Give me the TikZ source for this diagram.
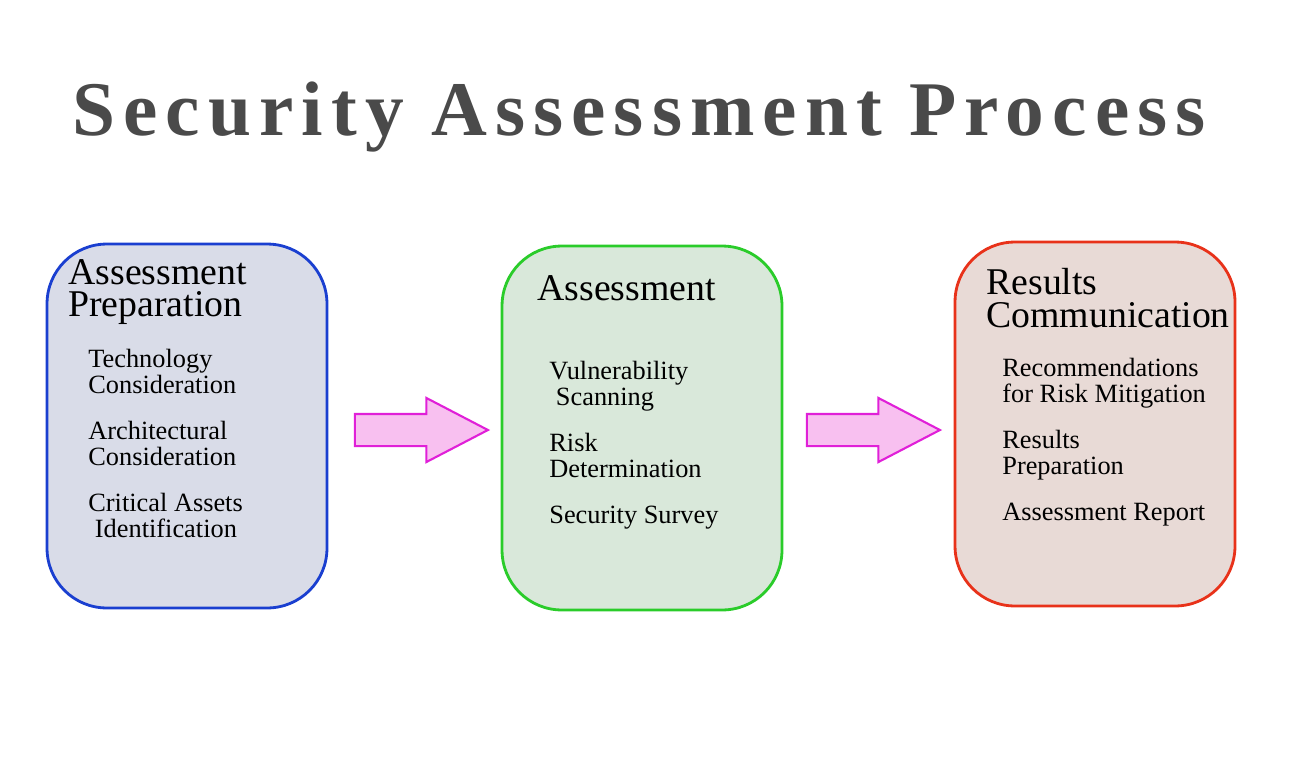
\documentclass[tikz,border=0pt]{standalone}
\usepackage{fontspec}
\setmainfont{Liberation Serif}
\newfontfamily\titlefont[LetterSpace=10.5]{Liberation Serif}
\usetikzlibrary{shapes.arrows}
\definecolor{titlegray}{HTML}{4A4A4A}
\definecolor{prepfill}{HTML}{D9DCE8}
\definecolor{prepline}{HTML}{1A3FD0}
\definecolor{assfill}{HTML}{D9E8DA}
\definecolor{assline}{HTML}{2ACC2A}
\definecolor{resfill}{HTML}{E8DAD6}
\definecolor{resline}{HTML}{E8321A}
\definecolor{arrline}{HTML}{E020D8}
\definecolor{arrfill}{HTML}{F8C0F0}
\tikzset{
  stagebox/.style={rounded corners=34pt, line width=1.6pt, minimum width=5.6cm, minimum height=7.28cm},
  heading/.style={font=\fontsize{21.5}{18.5}\selectfont, align=left, anchor=north west, inner sep=0pt},
  items/.style={font=\fontsize{15}{14.5}\selectfont, align=left, anchor=north west, inner sep=0pt},
  flowarrow/.style={single arrow, draw=arrline, fill=arrfill, line width=1.2pt,
    minimum width=1.24cm, text height=0.6cm, single arrow head extend=0.32cm,
    single arrow tip angle=55, minimum height=2.66cm, inner sep=0pt}
}
\begin{document}
\begin{tikzpicture}[x=0.02cm,y=-0.02cm]
  \useasboundingbox (0,0) rectangle (1300,764);
  % title
  \node[anchor=base, text=titlegray, font=\titlefont\bfseries\fontsize{44}{50}\selectfont] (title) at (639,135) {Security Assessment Process};
  % stages
  \node[stagebox, draw=prepline, fill=prepfill] (prep) at (187,426) {};
  \node[stagebox, draw=assline, fill=assfill] (assess) at (642,428) {};
  \node[stagebox, draw=resline, fill=resfill] (results) at (1095,424) {};
  \node[heading] (prephead) at (68,259) {Assessment\\Preparation};
  \node[items] (prepitems) at (88,349) {Technology\\Consideration\\[12pt]Architectural\\Consideration\\[12pt]Critical Assets\\\ Identification};
  \node[heading] (asshead) at (537,275) {Assessment};
  \node[items] (assitems) at (549,361) {Vulnerability\\\ Scanning\\[12pt]Risk\\Determination\\[12pt]Security Survey};
  \node[heading] (reshead) at (986,268) {Results\\Communication};
  \node[items] (resitems) at (1002,358) {Recommendations\\for Risk Mitigation\\[12pt]Results\\Preparation\\[12pt]Assessment Report};
  % arrows
  \node[flowarrow] (arrowA) at (406,430) {};
  \node[flowarrow] (arrowB) at (858,430) {};
\end{tikzpicture}
\end{document}
